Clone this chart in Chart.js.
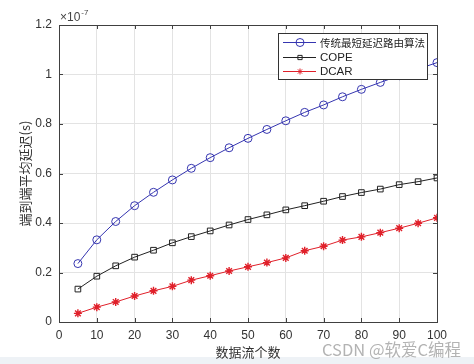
<!DOCTYPE html>
<html><head><meta charset="utf-8">
<script src="https://cdn.jsdelivr.net/npm/chart.js@4/dist/chart.umd.min.js"></script>
<style>html,body{margin:0;padding:0;background:#fff}#wrap{width:474px;height:364px;position:relative}</style>
</head><body><div id="wrap"><canvas id="c" width="474" height="364"></canvas></div>
<script>
const flows = [5,10,15,20,25,30,35,40,45,50,55,60,65,70,75,80,85,90,95,100];
const traditional = [0.236,0.332,0.406,0.470,0.524,0.574,0.621,0.664,0.704,0.742,0.778,0.813,0.847,0.877,0.910,0.940,0.968,0.995,1.022,1.048];
const cope = [0.133,0.185,0.227,0.262,0.290,0.320,0.345,0.368,0.392,0.414,0.433,0.453,0.470,0.488,0.507,0.523,0.537,0.555,0.567,0.582];
const dcar = [0.035,0.060,0.081,0.105,0.126,0.144,0.169,0.187,0.206,0.223,0.240,0.259,0.288,0.306,0.331,0.344,0.361,0.379,0.399,0.421];
const seriesNames = ['传统最短延迟路由算法','COPE','DCAR'];
const xTicks = [0,10,20,30,40,50,60,70,80,90,100];
const yTicks = [0,0.2,0.4,0.6,0.8,1,1.2];
const xTitle = '数据流个数';
const yTitle = '端到端平均延迟(s)';
const exponentText = '-7';

const BLUE = '#3535b0', BLACK = '#222222', RED = '#e0202a';
const tickFont = {family:'"Liberation Sans", Arial, sans-serif', size:12};
const cjkFont = '"Noto Sans CJK SC", sans-serif';

const boxPlugin = {
  id:'box',
  beforeDraw(chart){
    const ctx = chart.ctx;
    ctx.save();
    ctx.fillStyle = '#eef2f6';
    ctx.fillRect(0, 357, chart.width, chart.height-357);
    ctx.restore();
  },
  afterDatasetsDraw(chart){
    const {ctx, chartArea:a, scales} = chart;
    ctx.save();
    ctx.strokeStyle = '#404040'; ctx.lineWidth = 1;
    ctx.strokeRect(Math.round(a.left)+0.5, Math.round(a.top)+0.5, Math.round(a.right-a.left), Math.round(a.bottom-a.top));
    ctx.beginPath();
    xTicks.forEach(v=>{const x=Math.round(scales.x.getPixelForValue(v))+0.5;
      ctx.moveTo(x,a.bottom); ctx.lineTo(x,a.bottom-4); ctx.moveTo(x,a.top); ctx.lineTo(x,a.top+4);});
    yTicks.forEach(v=>{const y=Math.round(scales.y.getPixelForValue(v))+0.5;
      ctx.moveTo(a.left,y); ctx.lineTo(a.left+4,y); ctx.moveTo(a.right,y); ctx.lineTo(a.right-4,y);});
    ctx.stroke();
    // exponent
    ctx.fillStyle = '#444';
    ctx.font = '12px "Liberation Sans", Arial, sans-serif';
    ctx.textBaseline = 'alphabetic'; ctx.textAlign='left';
    ctx.fillText('\u00d710', a.left+1, a.top-4);
    const w = ctx.measureText('\u00d710').width;
    ctx.font = '8px "Liberation Sans", Arial, sans-serif';
    ctx.fillText(exponentText, a.left+1+w+1, a.top-10);
    // legend
    const lx=278, ly=33, lw=149, lh=46;
    ctx.fillStyle='#fff'; ctx.fillRect(lx,ly,lw,lh);
    ctx.strokeStyle='#333'; ctx.lineWidth=1;
    ctx.strokeRect(lx+0.5,ly+0.5,lw,lh);
    const rows=[42,57,71];
    chart.data.datasets.forEach((ds,i)=>{
      const y=rows[i];
      ctx.strokeStyle=ds.borderColor; ctx.lineWidth=1;
      ctx.beginPath(); ctx.moveTo(lx+5,y+0.5); ctx.lineTo(lx+38,y+0.5); ctx.stroke();
      ctx.fillStyle='rgba(0,0,0,0)';
      Chart.helpers.drawPoint(ctx,{pointStyle:ds.pointStyle,radius:i===0?4:3,borderWidth:1,rotation:0},lx+22,y+0.5);
      ctx.fillStyle='#222';
      ctx.font = i===0 ? '10.5px '+cjkFont : '11.5px "Liberation Sans", Arial, sans-serif';
      ctx.textBaseline='middle';
      ctx.fillText(seriesNames[i], lx+42, y+1);
    });
    // watermark
    ctx.fillStyle='rgba(160,160,160,0.8)';
    ctx.font='16.5px '+cjkFont;
    ctx.textBaseline='alphabetic'; ctx.textAlign='left';
    ctx.fillText('CSDN @软爱C编程', 322, 356);
    ctx.restore();
  }
};

function mk(name,data,color,style,r,bw){
  return {label:name,data:flows.map((x,i)=>({x,y:data[i]})),borderColor:color,backgroundColor:'rgba(0,0,0,0)',
    pointBorderColor:color,pointBackgroundColor:'rgba(0,0,0,0)',pointStyle:style,pointRadius:r,pointBorderWidth:bw,
    borderWidth:1,tension:0,fill:false};
}

new Chart(document.getElementById('c'),{
  type:'line',
  data:{datasets:[
    mk(seriesNames[0],traditional,BLUE,'circle',4,1),
    mk(seriesNames[1],cope,BLACK,'rect',4,1),
    mk(seriesNames[2],dcar,RED,'star',4,1.4)
  ]},
  options:{
    responsive:false, animation:false, devicePixelRatio:1,
    layout:{padding:{left:0,right:37,top:25,bottom:4}},
    plugins:{legend:{display:false},tooltip:{enabled:false}},
    scales:{
      x:{type:'linear',min:0,max:100,
        afterBuildTicks(s){s.ticks=xTicks.map(v=>({value:v}));},
        afterFit(s){s.height=38;},
        grid:{color:'#e3e3e3',drawTicks:false},border:{display:false},
        ticks:{padding:6,color:'#333',font:tickFont,maxRotation:0,autoSkip:false},
        title:{display:true,text:xTitle,color:'#333',font:{family:cjkFont,size:13},padding:{top:2,bottom:0}}
      },
      y:{type:'linear',min:0,max:1.2,
        afterBuildTicks(s){s.ticks=yTicks.map(v=>({value:v}));},
        afterFit(s){s.width=59;},
        grid:{color:'#e3e3e3',drawTicks:false},border:{display:false},
        ticks:{padding:7,color:'#333',font:tickFont,callback:v=>String(+(+v).toFixed(1))},
        title:{display:true,text:yTitle,color:'#333',font:{family:cjkFont,size:13},padding:{top:17,bottom:0}}
      }
    }
  },
  plugins:[boxPlugin]
});
</script></body></html>
